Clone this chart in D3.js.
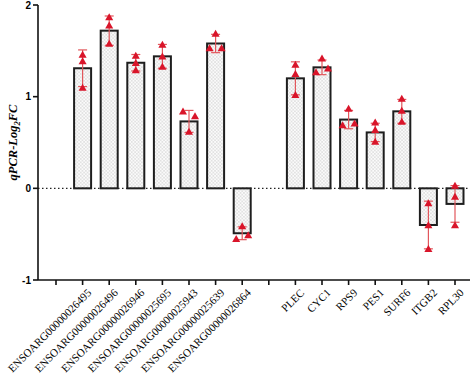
<!DOCTYPE html>
<html lang="en">
<head>
    <meta charset="UTF-8">
    <title>qPCR Log2FC</title>
    <script src="https://d3js.org/d3.v7.min.js"></script>
    <style>
        body { margin: 0; background: #fff; }
    </style>
</head>
<body>
    <svg id="chart" width="474" height="377"></svg>
    <script>
// slot names, "" marks the empty gap slots on the x axis
const slots = ["", "ENSOARG00000026495", "ENSOARG00000026496", "ENSOARG00000026946",
    "ENSOARG00000025695", "ENSOARG00000025943", "ENSOARG00000025639", "ENSOARG00000026864",
    "", "PLEC", "CYC1", "RPS9", "PES1", "SURF6", "ITGB2", "RPL30"];

const genes = ["ENSOARG00000026495", "ENSOARG00000026496", "ENSOARG00000026946",
    "ENSOARG00000025695", "ENSOARG00000025943", "ENSOARG00000025639", "ENSOARG00000026864",
    "PLEC", "CYC1", "RPS9", "PES1", "SURF6", "ITGB2", "RPL30"];

// mean log2FC
const means = [1.31, 1.72, 1.37, 1.44, 0.73, 1.58, -0.49,
    1.20, 1.32, 0.75, 0.61, 0.84, -0.40, -0.17];

// error (sd)
const errs = [0.20, 0.16, 0.09, 0.13, 0.12, 0.10, 0.07,
    0.18, 0.08, 0.10, 0.10, 0.13, 0.26, 0.20];

// replicate points
const reps = [
    [1.45, 1.38, 1.09],
    [1.86, 1.77, 1.57],
    [1.44, 1.36, 1.28],
    [1.56, 1.43, 1.32],
    [0.83, 0.78, 0.61],
    [1.68, 1.52, 1.52],
    [-0.42, -0.56, -0.52],
    [1.34, 1.24, 1.01],
    [1.41, 1.26, 1.30],
    [0.86, 0.68, 0.70],
    [0.71, 0.63, 0.50],
    [0.97, 0.84, 0.72],
    [-0.17, -0.41, -0.67],
    [0.02, -0.10, -0.41]
];

const yTicks = [-1, 0, 1, 2];

const svg = d3.select("#chart");

// dotted fill texture
const defs = svg.append("defs");
const pat = defs.append("pattern")
    .attr("id", "dots")
    .attr("patternUnits", "userSpaceOnUse")
    .attr("width", 3.4)
    .attr("height", 3.4);
pat.append("rect").attr("width", 3.4).attr("height", 3.4).attr("fill", "#fbfbfb");
pat.append("circle").attr("cx", 0.85).attr("cy", 0.85).attr("r", 0.55).attr("fill", "#b4b4b4");
pat.append("circle").attr("cx", 2.55).attr("cy", 2.55).attr("r", 0.55).attr("fill", "#b4b4b4");

const x = d3.scalePoint()
    .domain(d3.range(slots.length))
    .range([56, 455]);

const y = d3.scaleLinear()
    .domain([-1, 2])
    .range([280, 5]);

const barW = 17;
const xLeft = 38, xRight = 470;

// bars
const data = genes.map((g, i) => ({ gene: g, mean: means[i], err: errs[i], reps: reps[i],
    slot: slots.indexOf(g) }));

svg.append("g")
    .selectAll("rect")
    .data(data)
    .enter().append("rect")
    .attr("x", d => x(d.slot) - barW / 2)
    .attr("y", d => y(Math.max(0, d.mean)))
    .attr("width", barW)
    .attr("height", d => Math.abs(y(d.mean) - y(0)))
    .attr("fill", "url(#dots)")
    .attr("stroke", "#1e1e1e")
    .attr("stroke-width", 2);

// zero line (dotted)
svg.append("line")
    .attr("x1", xLeft).attr("x2", xRight)
    .attr("y1", y(0)).attr("y2", y(0))
    .attr("stroke", "#222")
    .attr("stroke-width", 1.2)
    .attr("stroke-dasharray", "1.5,2.5");

// error bars
const errCol = "#e2575c";
const eb = svg.append("g");
data.forEach(d => {
    const cx = x(d.slot);
    const lo = y(d.mean - d.err), hi = y(d.mean + d.err);
    eb.append("line").attr("x1", cx).attr("x2", cx).attr("y1", lo).attr("y2", hi)
        .attr("stroke", errCol).attr("stroke-width", 1.2);
    [lo, hi].forEach(v => {
        eb.append("line").attr("x1", cx - 4.5).attr("x2", cx + 4.5).attr("y1", v).attr("y2", v)
            .attr("stroke", errCol).attr("stroke-width", 1.2);
    });
});

// replicate triangles: the two closest values get split left/right when nearly equal
const tri = d3.symbol().type(d3.symbolTriangle).size(28);
const pts = svg.append("g");
data.forEach(d => {
    const v = d.reps;
    let best = [0, 1], bd = Infinity;
    for (let a = 0; a < v.length; a++)
        for (let b = a + 1; b < v.length; b++)
            if (Math.abs(v[a] - v[b]) < bd) { bd = Math.abs(v[a] - v[b]); best = [a, b]; }
    v.forEach((val, k) => {
        let dx = 0;
        if (bd < 0.055) {
            if (k === best[0]) dx = -6;
            if (k === best[1]) dx = 6;
        }
        pts.append("path")
            .attr("d", tri)
            .attr("transform", `translate(${x(d.slot) + dx},${y(val)})`)
            .attr("fill", "#d9152a");
    });
});

// y axis
const yAxis = svg.append("g").attr("font-family", "Arial, Liberation Sans, sans-serif");
yAxis.append("line")
    .attr("x1", xLeft).attr("x2", xLeft)
    .attr("y1", y(2)).attr("y2", y(-1))
    .attr("stroke", "#111").attr("stroke-width", 1.6);
yTicks.forEach(t => {
    yAxis.append("line")
        .attr("x1", xLeft - 5).attr("x2", xLeft)
        .attr("y1", y(t)).attr("y2", y(t))
        .attr("stroke", "#111").attr("stroke-width", 1.6);
    yAxis.append("text")
        .attr("x", xLeft - 7).attr("y", y(t))
        .attr("dy", "0.35em")
        .attr("text-anchor", "end")
        .attr("font-size", 10)
        .attr("font-weight", "bold")
        .text(t);
});

// x axis
const xAxis = svg.append("g");
xAxis.append("line")
    .attr("x1", xLeft).attr("x2", xRight)
    .attr("y1", y(-1)).attr("y2", y(-1))
    .attr("stroke", "#111").attr("stroke-width", 1.6);
slots.forEach((s, i) => {
    xAxis.append("line")
        .attr("x1", x(i)).attr("x2", x(i))
        .attr("y1", y(-1)).attr("y2", y(-1) + 5)
        .attr("stroke", "#111").attr("stroke-width", 1.6);
    if (s) {
        xAxis.append("text")
            .attr("transform", `translate(${x(i) + 4},${y(-1) + 8}) rotate(-45)`)
            .attr("text-anchor", "end")
            .attr("dy", "0.7em")
            .attr("font-family", "Liberation Serif, Times New Roman, serif")
            .attr("font-size", 11)
            .text(s);
    }
});

// y label
const yl = svg.append("text")
    .attr("transform", `translate(17,${(y(2) + y(-1)) / 2}) rotate(-90)`)
    .attr("text-anchor", "middle")
    .attr("font-family", "Liberation Serif, Times New Roman, serif")
    .attr("font-size", 12.5)
    .attr("font-weight", "bold")
    .attr("font-style", "italic");
yl.append("tspan").text("qPCR-Log");
yl.append("tspan").attr("font-size", 8.5).attr("dy", 3).text("2");
yl.append("tspan").attr("dy", -3).text("FC");
    </script>
</body>
</html>
